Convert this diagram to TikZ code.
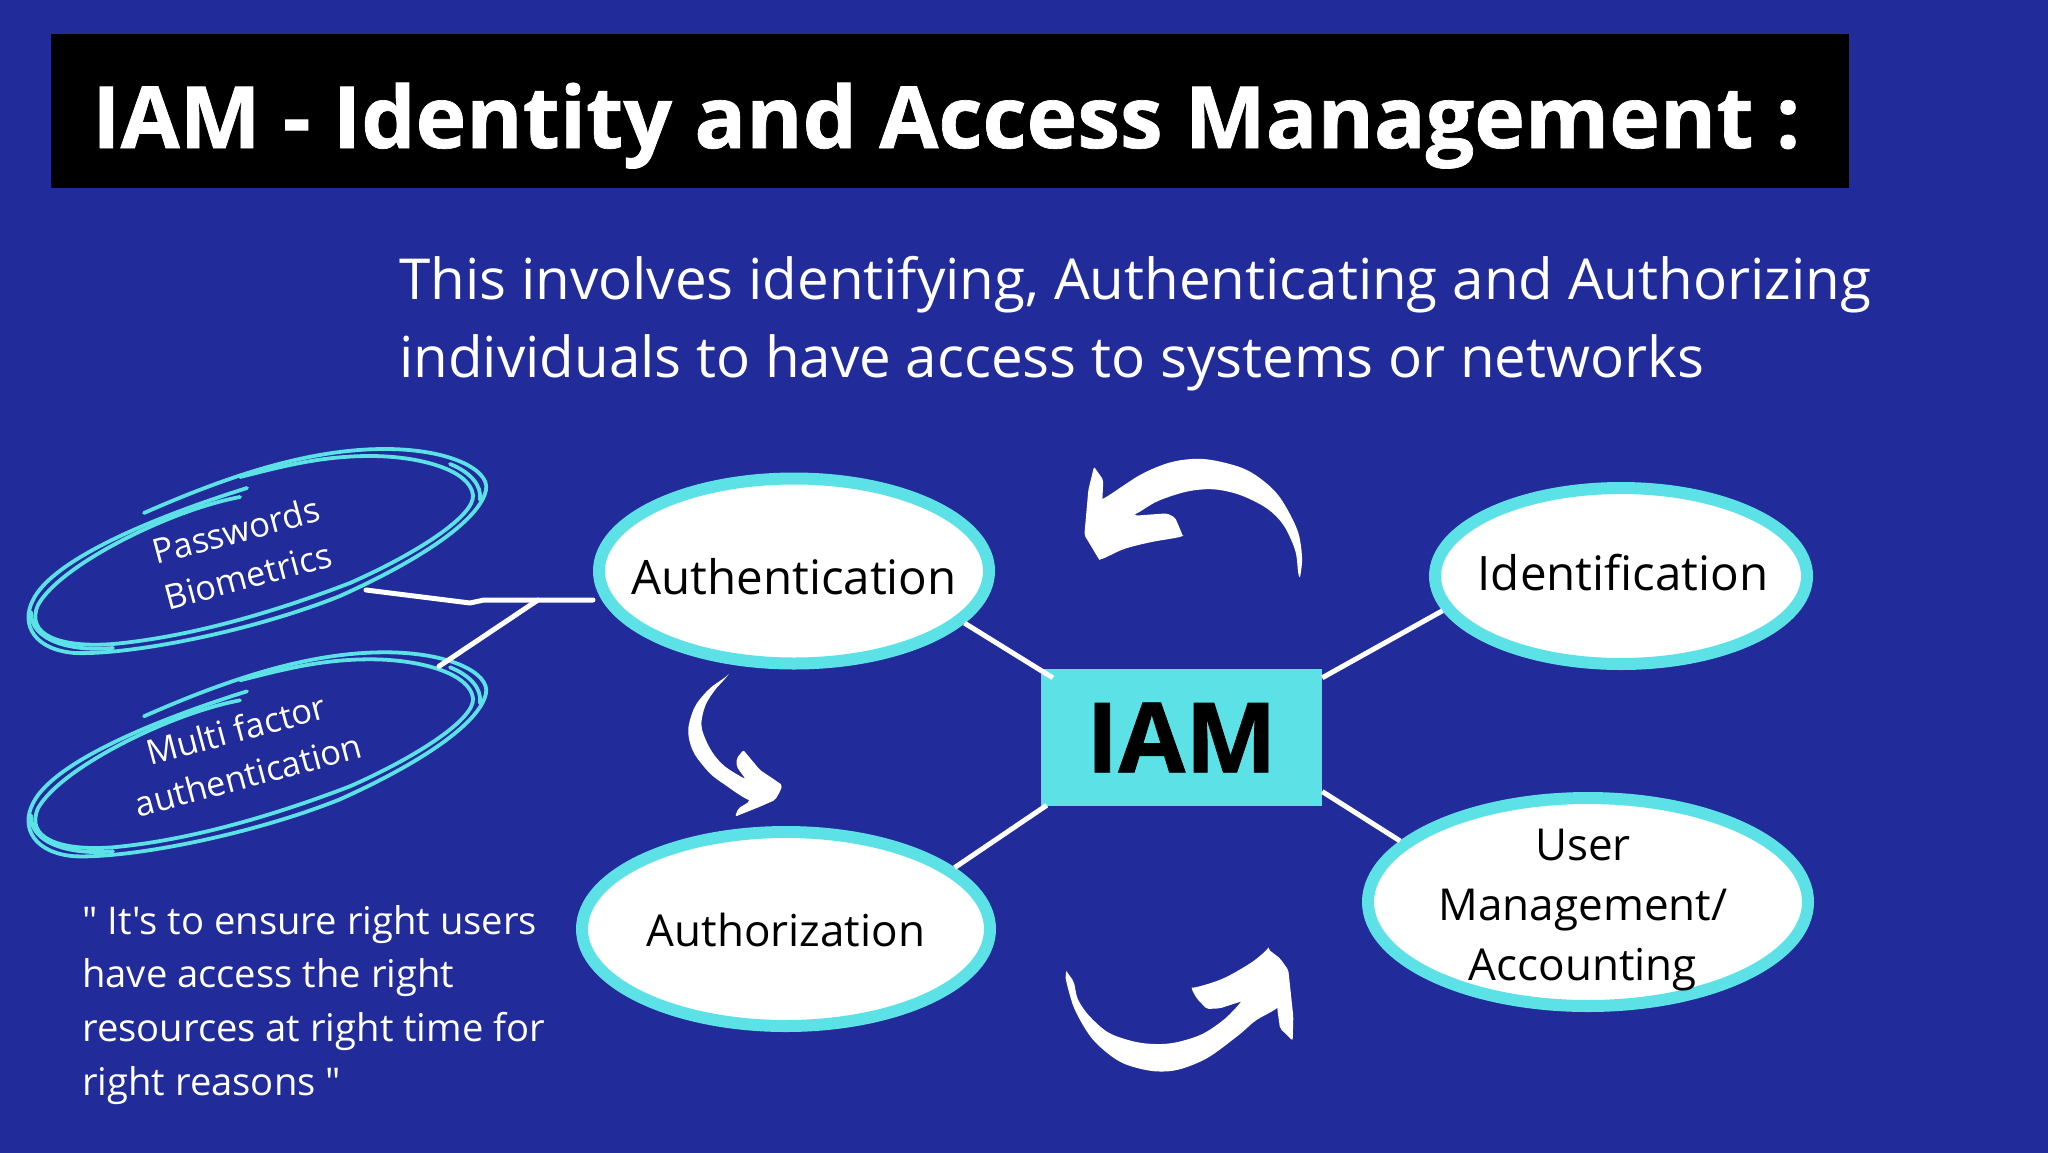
\documentclass[tikz,border=0pt]{standalone}
\usepackage{fontspec}
\setmainfont{Open Sans}
\newfontfamily\plainfont{Open Sans}
\newfontfamily\heavyfont[BoldFeatures={FakeBold=0.8}]{Open Sans}
\usetikzlibrary{positioning, shapes, shapes.geometric}
\definecolor{slidebg}{HTML}{212B99}
\definecolor{aqua}{HTML}{5CE1E6}
\tikzstyle{bubble} = [draw=aqua, fill=white, ellipse, line width=12pt, inner sep=0pt]
\tikzstyle{bubbletext} = [text=black, inner sep=0pt, align=center,
    font=\fontsize{47.5}{60}\selectfont]
\tikzstyle{link} = [draw=white, line width=5pt]
\tikzstyle{swoosh} = [fill=white, draw=none, rounded corners=2pt]
\tikzstyle{stroke} = [draw=aqua, line width=3.8pt, line cap=round]
\tikzstyle{note} = [text=white, inner sep=0pt, rotate=15, align=center,
    font=\fontsize{34.4}{47}\selectfont]
\tikzset{sketchring/.pic={
    \draw[stroke] (144,513) .. controls (230,475) and (310,449) .. (385,449) .. controls (450,449) and (490,470) .. (486,490) .. controls (480,520) and (420,560) .. (340,596) .. controls (250,632) and (130,655) .. (75,653) .. controls (35,650) and (20,625) .. (33,600) .. controls (50,565) and (130,525) .. (247,488);
    \draw[stroke] (240,497) .. controls (170,510) and (60,565) .. (38,605) .. controls (25,635) and (60,648) .. (113,644) .. controls (200,636) and (290,606) .. (350,583) .. controls (420,552) and (475,515) .. (473,495) .. controls (470,470) and (420,456) .. (370,456) .. controls (320,456) and (280,467) .. (240,477);
    \draw[stroke] (480,500) .. controls (482,485) and (470,472) .. (450,464);
    \draw[stroke] (113,648) .. controls (70,652) and (30,640) .. (31,612);
    \coordinate (-low) at (366,590);
    \coordinate (-top) at (439,463);
}}

\begin{document}
\begin{tikzpicture}[x=1pt, y=-1pt]
    \useasboundingbox (0,0) rectangle (2048,1152);
    \fill[slidebg] (-3,-3) rectangle (2051,1155);

    % heading
    \node[
        fill=black,
        minimum width=1798pt,
        minimum height=154pt,
        inner sep=0pt,
        anchor=north west
    ](bar) at (51,34){};
    \node[
        anchor=base west,
        inner sep=0pt,
        text=white,
        font=\fontsize{85.8}{100}\selectfont\heavyfont\bfseries
    ](title) at (92,148){IAM - Identity and Access Management :};
    \node[
        anchor=north west,
        inner sep=0pt,
        text=white,
        align=left,
        font=\fontsize{56.5}{78}\selectfont
    ](intro) at (399,256){This involves identifying, Authenticating and Authorizing\\individuals to have access to systems or networks};

    % main boxes
    \node[
        fill=aqua,
        minimum width=281pt,
        minimum height=137pt,
        inner sep=0pt,
        font=\fontsize{97}{100}\selectfont\heavyfont\bfseries
    ](iam) at (1181.5,737.5){IAM};
    \node[bubble, minimum width=390pt, minimum height=185pt](authn) at (794,571){};
    \node[bubble, minimum width=372pt, minimum height=176pt](ident) at (1621,576){};
    \node[bubble, minimum width=408pt, minimum height=194pt](authz) at (786,929){};
    \node[bubble, minimum width=440pt, minimum height=208pt](user) at (1588,902){};
    \node[bubbletext, yshift=-6pt](authntext) at (authn){Authentication};
    \node[bubbletext, yshift=3pt, xshift=2pt](identtext) at (ident){Identification};
    \node[bubbletext, font=\fontsize{44}{60}\selectfont, yshift=-1pt](authztext) at (authz){Authorization};
    \node[bubbletext, font=\fontsize{44}{60}\selectfont, xshift=-5pt, yshift=-8pt](usertext) at (user){User\\Management/\\Accounting};

    \draw[link] (authn.-17) -- ([shift={(12,9)}]iam.north west);
    \draw[link] (ident.191) -- (iam.23);
    \draw[link] (authz.20) -- ([shift={(6,-1)}]iam.south west);
    \draw[link] (user.162) -- (iam.-21);

    % hand drawn rings
    \pic (passring) at (0,0) {sketchring};
    \pic (mfaring) at (0,203.3) {sketchring};
    \node[note](passtext) at (242,553){Passwords\\Biometrics};
    \node[note](mfatext) at (242,752){Multi factor\\authentication};

    \coordinate (bendA) at (470,603);
    \coordinate (bendB) at (484,600);
    \coordinate (joint) at (538,600);
    \draw[link, line cap=round, line join=round] (passring-low) -- (bendA) -- (bendB) -- (joint) -- (authn.west |- joint);
    \draw[link, line cap=round] (mfaring-top) -- (joint);

    % curved arrows
    \fill[swoosh, shift={(1040,440)}, scale=1/3]
        plot[smooth] coordinates {(780,415) (786,350) (770,265) (710,160) (620,90) (500,58) (400,65) (300,105) (187,182)}
        -- (190,120) -- (162,80) -- (145,150) -- (133,285) -- (180,363)
        -- plot[smooth] coordinates {(180,363) (250,328) (340,305) (430,292)}
        -- (418,262) -- (405,232) -- (380,220) -- (285,227)
        -- plot[smooth] coordinates {(285,227) (350,185) (440,155) (520,148) (600,165) (680,205) (730,255) (765,330) (775,400) (780,415)}
        -- cycle;
    \fill[swoosh, shift={(660,660)}, scale=1/3]
        plot[smooth] coordinates {(205,48) (150,85) (105,140) (85,210) (100,275) (150,340) (210,385) (268,425)}
        -- (235,445) -- (225,470) -- (300,440) -- (345,420) -- (360,395) -- (367,375) -- (300,330) -- (250,270) -- (230,295) -- (230,320) -- (260,362)
        -- plot[smooth] coordinates {(260,362) (190,315) (150,265) (125,200) (135,140) (165,90) (205,48)}
        -- cycle;
    \fill[swoosh, shift={(1050,930)}, scale=1/3]
        plot[smooth] coordinates {(50,128) (48,150) (75,240) (130,330) (210,395) (300,422) (380,420) (470,385) (560,320) (620,270) (682,238)}
        -- (690,295) -- (728,332) -- (730,260) -- (715,120) -- (690,85) -- (655,58)
        -- plot[smooth] coordinates {(655,58) (600,100) (520,145) (425,178)}
        -- (440,205) -- (470,237) -- (510,235) -- (578,213)
        -- plot[smooth] coordinates {(578,213) (520,270) (450,315) (360,340) (270,338) (180,310) (120,260) (85,210) (70,155) (50,128)}
        -- cycle;

    % quote
    \node[
        anchor=north west,
        inner sep=0pt,
        text=white,
        align=left,
        font=\fontsize{38.2}{53.6}\selectfont\plainfont
    ](quote) at (82,905){" It's to ensure right users\\have access the right\\resources at right time for\\right reasons "};
\end{tikzpicture}
\end{document}
